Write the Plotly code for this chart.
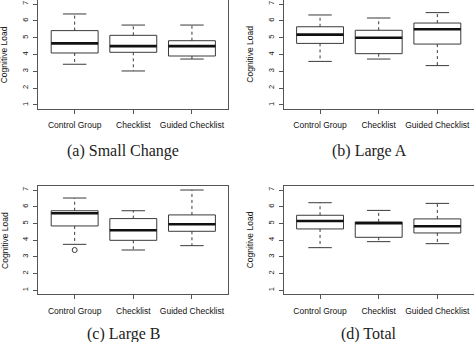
import plotly.graph_objects as go

categories = ["Control Group", "Checklist", "Guided Checklist"]
captions = ["(a) Small Change", "(b) Large A", "(c) Large B", "(d) Total"]

# (a) Small Change
a_low = [3.42, 3.02, 3.73]
a_q1 = [4.09, 4.13, 3.91]
a_med = [4.66, 4.50, 4.50]
a_q3 = [5.42, 5.14, 4.82]
a_high = [6.41, 5.75, 5.75]
a_out = [[], [], []]

# (b) Large A
b_low = [3.59, 3.73, 3.34]
b_q1 = [4.66, 4.05, 4.62]
b_med = [5.18, 5.00, 5.50]
b_q3 = [5.65, 5.44, 5.87]
b_high = [6.35, 6.17, 6.49]
b_out = [[], [], []]

# (c) Large B
c_low = [3.75, 3.41, 3.67]
c_q1 = [4.85, 3.99, 4.53]
c_med = [5.61, 4.59, 4.95]
c_q3 = [5.76, 5.29, 5.51]
c_high = [6.52, 5.76, 7.00]
c_out = [[3.41], [], []]

# (d) Total
d_low = [3.55, 3.91, 3.79]
d_q1 = [4.67, 4.17, 4.43]
d_med = [5.15, 5.01, 4.83]
d_q3 = [5.49, 5.09, 5.27]
d_high = [6.24, 5.78, 6.20]
d_out = [[], [], []]

y_ticks = [1, 2, 3, 4, 5, 6, 7]

panels = [
    (a_low, a_q1, a_med, a_q3, a_high, a_out),
    (b_low, b_q1, b_med, b_q3, b_high, b_out),
    (c_low, c_q1, c_med, c_q3, c_high, c_out),
    (d_low, d_q1, d_med, d_q3, d_high, d_out),
]

W, H = 474, 342
# plot frames in pixels: (left, right, top, bottom)
frames = [
    (38.3, 228.3, 0.0, 109.0),
    (283.7, 473.7, 0.0, 109.0),
    (38.3, 228.3, 186.0, 294.3),
    (283.7, 473.7, 186.0, 294.3),
]
cap_pos = [(123, 150.7), (369, 150.7), (123, 334), (369, 334)]

BOX_W = 0.8
CAP_W = 0.4
LINE_C = "#3a3a3a"
FRAME_C = "#555555"
TXT_C = "#111111"

fig = go.Figure()
layout = dict(
    width=W, height=H, margin=dict(l=0, r=0, t=0, b=0),
    paper_bgcolor="white", plot_bgcolor="white", showlegend=False,
    annotations=[],
)

for p, (low, q1, med, q3, high, outs) in enumerate(panels):
    sfx = "" if p == 0 else str(p + 1)
    xa, ya = "x" + sfx, "y" + sfx
    xs = [i + 1 for i in range(len(categories))]
    for i, x in enumerate(xs):
        fig.add_trace(go.Box(
            x=[x], q1=[q1[i]], median=[med[i]], q3=[q3[i]],
            lowerfence=[q1[i]], upperfence=[q3[i]],
            width=BOX_W, whiskerwidth=0,
            line=dict(color=LINE_C, width=1), fillcolor="white",
            xaxis=xa, yaxis=ya, hoverinfo="skip",
        ))
    # whiskers (dotted)
    wx, wy = [], []
    for i, x in enumerate(xs):
        wx += [x, x, None, x, x, None]
        wy += [q3[i], high[i], None, q1[i], low[i], None]
    fig.add_trace(go.Scatter(x=wx, y=wy, mode="lines",
                             line=dict(color=LINE_C, width=1, dash="dot"),
                             xaxis=xa, yaxis=ya, hoverinfo="skip"))
    # caps
    cx, cy = [], []
    for i, x in enumerate(xs):
        cx += [x - CAP_W / 2, x + CAP_W / 2, None, x - CAP_W / 2, x + CAP_W / 2, None]
        cy += [high[i], high[i], None, low[i], low[i], None]
    fig.add_trace(go.Scatter(x=cx, y=cy, mode="lines",
                             line=dict(color=LINE_C, width=1),
                             xaxis=xa, yaxis=ya, hoverinfo="skip"))
    # medians (thick)
    mx, my = [], []
    for i, x in enumerate(xs):
        mx += [x - BOX_W / 2, x + BOX_W / 2, None]
        my += [med[i], med[i], None]
    fig.add_trace(go.Scatter(x=mx, y=my, mode="lines",
                             line=dict(color="#111111", width=2.6),
                             xaxis=xa, yaxis=ya, hoverinfo="skip"))
    # outliers
    ox, oy = [], []
    for i, x in enumerate(xs):
        for v in outs[i]:
            ox.append(x)
            oy.append(v)
    if ox:
        fig.add_trace(go.Scatter(x=ox, y=oy, mode="markers",
                                 marker=dict(symbol="circle-open", size=5,
                                             color=LINE_C, line=dict(width=1)),
                                 xaxis=xa, yaxis=ya, hoverinfo="skip"))

    l, r, t, b = frames[p]
    xkey = "xaxis" + sfx
    ykey = "yaxis" + sfx
    layout[xkey] = dict(
        domain=[l / W, r / W], anchor=ya, range=[0.38, 3.62],
        tickmode="array", tickvals=xs, ticktext=categories,
        ticks="outside", ticklen=4, tickcolor=FRAME_C,
        ticklabelstandoff=4,
        showline=True, mirror=True, linecolor=FRAME_C, linewidth=1,
        showgrid=False, zeroline=False,
        tickfont=dict(family="Liberation Sans", size=8.5, color=TXT_C),
    )
    layout[ykey] = dict(
        domain=[1 - b / H, 1 - t / H], anchor=xa, range=[0.76, 7.24],
        tickmode="array", tickvals=y_ticks, tickangle=-90,
        ticks="outside", ticklen=4, tickcolor=FRAME_C,
        ticklabelstandoff=2,
        showline=True, mirror=True, linecolor=FRAME_C, linewidth=1,
        showgrid=False, zeroline=False,
        tickfont=dict(family="Liberation Sans", size=7.5, color=TXT_C),
    )
    layout["annotations"].append(dict(
        text="Cognitive Load", xref="paper", yref="paper",
        x=(l - 33.5) / W, y=1 - ((t + b) / 2) / H, textangle=-90,
        showarrow=False, xanchor="center", yanchor="middle",
        font=dict(family="Liberation Sans", size=8.5, color=TXT_C),
    ))
    cxp, cyp = cap_pos[p]
    layout["annotations"].append(dict(
        text=captions[p], xref="paper", yref="paper",
        x=cxp / W, y=1 - cyp / H, showarrow=False,
        xanchor="center", yanchor="middle",
        font=dict(family="Liberation Serif", size=16, color="#222222"),
    ))

fig.update_layout(**layout)
fig.write_html("out.html")
